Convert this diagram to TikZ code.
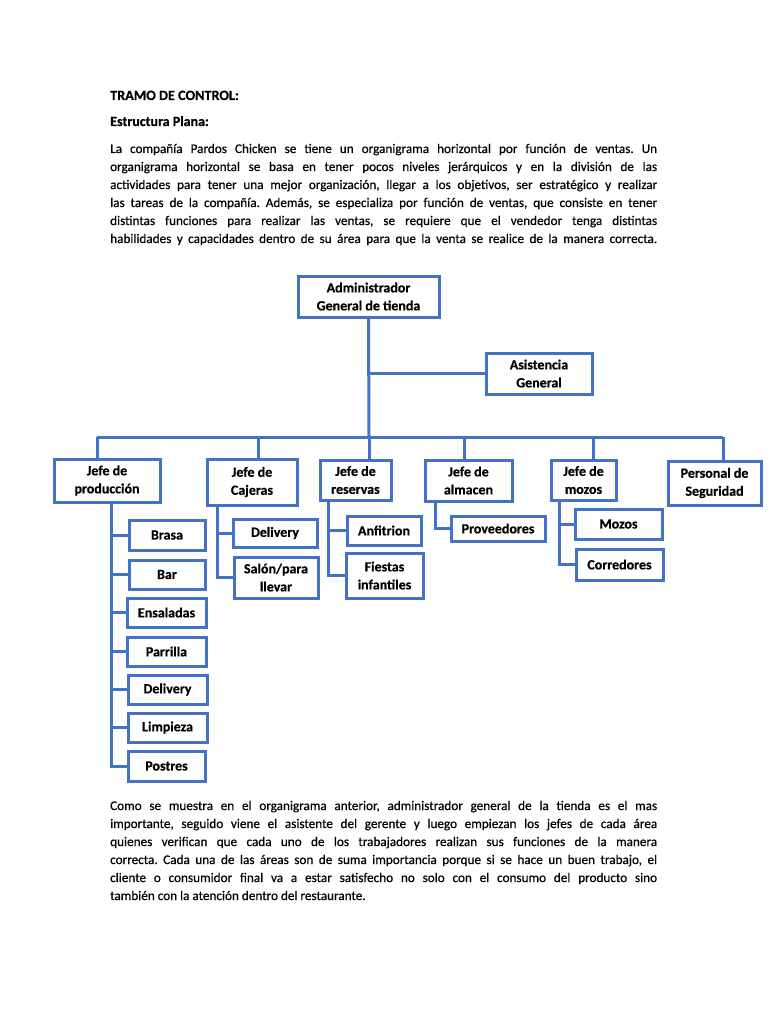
\documentclass[tikz,border=0pt]{standalone}
\usepackage{fontspec}
\setmainfont{Carlito}[FakeBold=0.5]
\definecolor{lineblue}{RGB}{68,114,196}
\newcommand\jline[1]{\hbox to 547pt{#1}}
\frenchspacing
\begin{document}
\begin{tikzpicture}[x=1pt,y=-1pt,
  box/.style={draw=lineblue, line width=3pt, fill=white, inner sep=1pt,
    font=\bfseries\fontsize{14}{18}\selectfont, align=center, text=black},
  conn/.style={draw=lineblue, line width=3pt, line join=miter},
  para/.style={anchor=base west, inner sep=0pt, font=\fontsize{13.2}{18}\selectfont}]
\fill[white] (0,0) rectangle (768,1024);
\useasboundingbox (0,0) rectangle (768,1024);

% ---- text ----
\node[para, font=\bfseries\fontsize{14.2}{18}\selectfont] (t1) at (110,100) {TRAMO DE CONTROL:};
\node[para, font=\bfseries\fontsize{14}{18}\selectfont] (t2) at (110,126) {Estructura Plana:};
\node[para] (p1) at (110,153) {\vtop{\baselineskip=18pt
\jline{La compañía Pardos Chicken se tiene un organigrama horizontal por función de ventas. Un}
\jline{organigrama horizontal se basa en tener pocos niveles jerárquicos y en la división de las}
\jline{actividades para tener una mejor organización, llegar a los objetivos, ser estratégico y realizar}
\jline{las tareas de la compañía. Además, se especializa por función de ventas, que consiste en tener}
\jline{distintas funciones para realizar las ventas, se requiere que el vendedor tenga distintas}
\jline{habilidades y capacidades dentro de su área para que la venta se realice de la manera correcta.}}};
\node[para] (p2) at (110,810) {\vtop{\baselineskip=18pt
\jline{Como se muestra en el organigrama anterior, administrador general de la tienda es el mas}
\jline{importante, seguido viene el asistente del gerente y luego empiezan los jefes de cada área}
\jline{quienes verifican que cada uno de los trabajadores realizan sus funciones de la manera}
\jline{correcta. Cada una de las áreas son de suma importancia porque si se hace un buen trabajo, el}
\jline{cliente o consumidor final va a estar satisfecho no solo con el consumo del producto sino}
\hbox{también con la atención dentro del restaurante.}}};

% ---- connector points ----
\coordinate (busL) at (97,437);
\coordinate (busR) at (723,437);
\coordinate (busC) at (369,437);
\coordinate (asJ) at (369,373);
\coordinate (d1) at (97,437);
\coordinate (d2) at (258,437);
\coordinate (d3) at (369,437);
\coordinate (d4) at (464,437);
\coordinate (d5) at (593,437);
\coordinate (d6) at (723,437);
\coordinate (s1) at (111,500);
\coordinate (s2) at (217,500);
\coordinate (s3) at (328,500);
\coordinate (s4) at (435,500);
\coordinate (s5) at (559,500);

% ---- boxes ----
\node[box, minimum width=141pt, minimum height=41pt] (admin) at (368.5,296.5) {Administrador\\General de tienda};
\node[box, minimum width=106pt, minimum height=41pt] (asist) at (539,373.5) {Asistencia\\General};

\node[box, minimum width=106pt, minimum height=43pt] (jp) at (107,480.5) {Jefe de\\producción};
\node[box, minimum width=90pt, minimum height=46pt] (jc) at (252,482) {Jefe de\\Cajeras};
\node[box, minimum width=71pt, minimum height=40pt] (jr) at (355.5,480) {Jefe de\\reservas};
\node[box, minimum width=87pt, minimum height=41pt] (ja) at (468.5,480.5) {Jefe de\\almacen};
\node[box, minimum width=65pt, minimum height=40pt] (jm) at (583.5,480) {Jefe de\\mozos};
\node[box, minimum width=93pt, minimum height=44pt] (ps) at (714.5,483) {Personal de\\Seguridad};

\node[box, minimum width=76pt, minimum height=30pt] (brasa) at (167,535) {Brasa};
\node[box, minimum width=76pt, minimum height=29pt] (bar) at (167,574.5) {Bar};
\node[box, minimum width=79pt, minimum height=29pt] (ensal) at (166.5,612.5) {Ensaladas};
\node[box, minimum width=79pt, minimum height=29pt] (parr) at (166.5,651.5) {Parrilla};
\node[box, minimum width=79pt, minimum height=29pt] (deliv) at (167.5,689.5) {Delivery};
\node[box, minimum width=79pt, minimum height=29pt] (limp) at (167.5,727.5) {Limpieza};
\node[box, minimum width=77pt, minimum height=30pt] (post) at (166.5,766) {Postres};

\node[box, minimum width=84pt, minimum height=28pt] (cdel) at (275,533) {Delivery};
\node[box, minimum width=84pt, minimum height=41pt] (csal) at (276,577.5) {Salón/para\\llevar};

\node[box, minimum width=74pt, minimum height=29pt] (anf) at (384,530.5) {Anfitrion};
\node[box, minimum width=77pt, minimum height=45pt] (fies) at (384.5,575.5) {Fiestas\\infantiles};

\node[box, minimum width=94pt, minimum height=25pt] (prov) at (498,528.5) {Proveedores};

\node[box, minimum width=87pt, minimum height=30pt] (moz) at (618.5,524) {Mozos};
\node[box, minimum width=87pt, minimum height=31pt] (corr) at (619.5,564.5) {Corredores};

% ---- connectors ----
\draw[conn] (admin.south) -- (busC);
\draw[conn] (asJ) -- (asJ -| asist.west);
\draw[conn] (busL) -- (busR);
\draw[conn] (d1) -- (d1 |- jp.north);
\draw[conn] (d2) -- (d2 |- jc.north);
\draw[conn] (d3) -- (d3 |- jr.north);
\draw[conn] (d4) -- (d4 |- ja.north);
\draw[conn] (d5) -- (d5 |- jm.north);
\draw[conn] (d6) -- (d6 |- ps.north);

\draw[conn] (s1 |- jp.south) |- (post.west);
\foreach \b in {brasa,bar,ensal,parr,deliv,limp}
  \draw[conn] (s1 |- \b.west) -- (\b.west);
\draw[conn] (s2 |- jc.south) |- (csal.west);
\draw[conn] (s2 |- cdel.west) -- (cdel.west);
\draw[conn] (s3 |- jr.south) |- (fies.west);
\draw[conn] (s3 |- anf.west) -- (anf.west);
\draw[conn] (s4 |- ja.south) |- (prov.west);
\draw[conn] (s5 |- jm.south) |- (corr.west);
\draw[conn] (s5 |- moz.west) -- (moz.west);
\end{tikzpicture}
\end{document}
